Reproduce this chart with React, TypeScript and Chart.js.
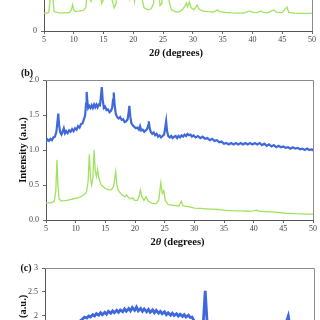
import React, { useEffect, useRef } from "react";
import Chart from "chart.js/auto";

// ---- Panel (a): green pattern (arbitrary counts), only bottom visible ----
const greenA: [number, number][] = [
  [5, 84], [5.5, 85], [5.8, 88], [6.0, 140], [6.15, 700], [6.35, 500], [6.5, 150], [6.7, 92],
  [7.5, 86], [8.5, 86], [9.3, 88], [9.6, 100], [9.8, 124], [10.0, 100], [10.3, 92], [11, 95],
  [11.6, 98], [12.0, 110], [12.2, 160], [12.5, 320], [12.7, 150], [12.9, 140], [13.1, 170],
  [13.3, 300], [13.5, 160], [13.7, 150], [14.0, 180], [14.2, 260], [14.4, 190], [14.7, 130],
  [15.0, 150], [15.3, 200], [15.6, 330], [15.8, 200], [16.1, 280], [16.4, 150], [16.8, 110],
  [17.1, 130], [17.5, 520], [17.8, 200], [18.1, 230], [18.4, 180], [18.7, 420], [19.0, 210],
  [19.3, 160], [19.7, 380], [19.9, 200], [20.2, 140], [20.6, 220], [20.9, 300], [21.2, 180],
  [21.5, 150], [21.8, 110], [22.5, 100], [23.0, 105], [23.4, 130], [23.7, 260], [24.0, 350],
  [24.2, 200], [24.5, 120], [24.8, 130], [25.1, 600], [25.4, 200], [25.7, 450], [26.0, 140],
  [26.4, 100], [27, 92], [27.6, 90], [28.2, 100], [28.6, 115], [28.9, 133], [29.1, 115],
  [29.4, 137], [29.7, 110], [30.2, 100], [30.7, 123], [31.0, 105], [31.5, 95], [32.5, 92],
  [33.5, 90], [34.1, 100], [34.5, 92], [35.5, 88], [36.5, 86], [37.5, 85], [38.5, 85],
  [39.6, 95], [40, 88], [40.8, 87], [41.4, 95], [41.8, 88], [42.5, 86], [43.6, 100], [44, 89],
  [45, 87], [45.8, 114], [46.1, 88], [47, 85], [48, 84], [49, 84], [50, 85],
];

// ---- Panel (b) ----
const blueB: [number, number][] = [
  [5.0, 1.12], [5.25, 1.15], [5.5, 1.13], [5.75, 1.16], [6.0, 1.14], [6.25, 1.18], [6.5, 1.19],
  [6.75, 1.26], [6.95, 1.42], [7.07, 1.52], [7.2, 1.36], [7.4, 1.25], [7.6, 1.22], [7.8, 1.26],
  [8.0, 1.31], [8.2, 1.24], [8.4, 1.27], [8.65, 1.24], [8.9, 1.28], [9.15, 1.26], [9.4, 1.3],
  [9.65, 1.27], [9.9, 1.31], [10.15, 1.29], [10.4, 1.34], [10.65, 1.32], [10.9, 1.37],
  [11.15, 1.38], [11.4, 1.44], [11.6, 1.5], [11.75, 1.66], [11.85, 1.83], [11.97, 1.7],
  [12.1, 1.6], [12.3, 1.63], [12.5, 1.6], [12.7, 1.64], [12.9, 1.6], [13.1, 1.65], [13.3, 1.61],
  [13.5, 1.65], [13.7, 1.61], [13.9, 1.65], [14.1, 1.64], [14.25, 1.76], [14.4, 1.9], [14.55, 1.72],
  [14.75, 1.6], [14.95, 1.62], [15.2, 1.57], [15.45, 1.58], [15.7, 1.54], [15.95, 1.56],
  [16.15, 1.6], [16.3, 1.72], [16.42, 1.82], [16.55, 1.66], [16.75, 1.52], [17.0, 1.47],
  [17.25, 1.45], [17.5, 1.47], [17.75, 1.43], [18.0, 1.44], [18.25, 1.4], [18.5, 1.41],
  [18.75, 1.44], [18.9, 1.52], [19.05, 1.63], [19.2, 1.48], [19.4, 1.38], [19.65, 1.35],
  [19.9, 1.33], [20.15, 1.31], [20.4, 1.32], [20.65, 1.29], [20.85, 1.34], [21.05, 1.28],
  [21.3, 1.29], [21.55, 1.26], [21.8, 1.28], [22.05, 1.3], [22.2, 1.35], [22.32, 1.41],
  [22.45, 1.32], [22.65, 1.26], [22.9, 1.23], [23.15, 1.25], [23.4, 1.21], [23.65, 1.23],
  [23.9, 1.19], [24.15, 1.21], [24.4, 1.18], [24.65, 1.2], [24.9, 1.22], [25.1, 1.32],
  [25.25, 1.41], [25.4, 1.27], [25.6, 1.2], [25.85, 1.18], [26.1, 1.2], [26.35, 1.17],
  [26.6, 1.19], [26.85, 1.2], [27.1, 1.17], [27.35, 1.2], [27.6, 1.18], [27.85, 1.21],
  [28.1, 1.19], [28.35, 1.22], [28.6, 1.2], [28.85, 1.23], [29.1, 1.21], [29.35, 1.22],
  [29.6, 1.19], [29.85, 1.21], [30.2, 1.18], [30.6, 1.2], [31.0, 1.17], [31.4, 1.19],
  [31.8, 1.16], [32.2, 1.17], [32.6, 1.14], [33.0, 1.16], [33.4, 1.13], [33.8, 1.14],
  [34.2, 1.11], [34.6, 1.12], [35.0, 1.09], [35.4, 1.1], [35.8, 1.08], [36.2, 1.1], [36.6, 1.08],
  [37.0, 1.1], [37.4, 1.08], [37.8, 1.1], [38.2, 1.08], [38.6, 1.1], [39.0, 1.08], [39.4, 1.1],
  [39.8, 1.08], [40.2, 1.1], [40.6, 1.08], [41.0, 1.1], [41.4, 1.07], [41.8, 1.09], [42.2, 1.06],
  [42.6, 1.08], [43.0, 1.05], [43.4, 1.07], [43.8, 1.04], [44.2, 1.06], [44.6, 1.04], [45.0, 1.05],
  [45.4, 1.03], [45.8, 1.04], [46.2, 1.02], [46.6, 1.04], [47.0, 1.02], [47.4, 1.03],
  [47.8, 1.01], [48.2, 1.02], [48.6, 1.0], [49.0, 1.02], [49.4, 1.0], [49.8, 1.01], [50, 0.99],
];

const greenB: [number, number][] = [
  [5, 0.24], [5.5, 0.245], [6, 0.25], [6.4, 0.27], [6.65, 0.42], [6.85, 0.86], [7.0, 0.5],
  [7.2, 0.3], [7.6, 0.27], [8.5, 0.28], [9.5, 0.3], [10.5, 0.32], [11.2, 0.35], [11.8, 0.39],
  [12.1, 0.55], [12.3, 0.94], [12.5, 0.6], [12.7, 0.5], [12.9, 0.6], [13.1, 1.0], [13.3, 0.7],
  [13.5, 0.62], [13.7, 0.72], [13.9, 0.6], [14.3, 0.5], [15.0, 0.45], [15.6, 0.43], [16.0, 0.43],
  [16.4, 0.48], [16.75, 0.69], [16.95, 0.5], [17.2, 0.42], [17.8, 0.36], [18.3, 0.33],
  [18.6, 0.36], [18.9, 0.32], [19.3, 0.3], [19.6, 0.32], [19.9, 0.28], [20.4, 0.28], [20.7, 0.34],
  [20.9, 0.43], [21.15, 0.34], [21.5, 0.28], [21.9, 0.33], [22.2, 0.27], [22.8, 0.24],
  [23.5, 0.23], [24.0, 0.28], [24.35, 0.53], [24.6, 0.38], [24.85, 0.42], [25.1, 0.28],
  [25.6, 0.22], [26.5, 0.21], [27.4, 0.2], [27.8, 0.27], [28.1, 0.2], [29, 0.19], [30, 0.17],
  [31, 0.165], [32, 0.16], [33, 0.155], [34, 0.15], [35, 0.14], [36, 0.135], [37, 0.13],
  [38, 0.13], [39, 0.125], [40, 0.13], [40.5, 0.14], [41, 0.125], [42, 0.12], [43, 0.115],
  [44, 0.11], [45, 0.1], [46, 0.095], [47, 0.09], [48, 0.087], [49, 0.085], [50, 0.085],
];

// ---- Panel (c): blue pattern, only top visible ----
const blueC: [number, number][] = [
  [5, 1.7], [6, 1.72], [7, 1.74], [8, 1.76], [9, 1.8], [10, 1.84], [10.5, 1.86], [11, 1.9],
  [11.3, 1.93], [11.6, 1.97], [12, 1.95], [12.3, 1.99], [12.6, 1.97], [13, 2.02], [13.3, 1.99],
  [13.6, 2.04], [14, 2.01], [14.3, 2.06], [14.6, 2.02], [15, 2.07], [15.3, 2.03], [15.6, 2.09],
  [16, 2.05], [16.3, 2.1], [16.6, 2.06], [17, 2.11], [17.3, 2.07], [17.6, 2.12], [18, 2.08],
  [18.3, 2.14], [18.6, 2.09], [19, 2.15], [19.3, 2.1], [19.6, 2.17], [20, 2.11], [20.3, 2.18],
  [20.6, 2.1], [21, 2.15], [21.3, 2.09], [21.6, 2.14], [22, 2.08], [22.3, 2.13], [22.6, 2.07],
  [23, 2.12], [23.3, 2.06], [23.6, 2.11], [24, 2.05], [24.3, 2.09], [24.6, 2.04], [25, 2.08],
  [25.3, 2.02], [25.6, 2.06], [26, 2.01], [26.3, 2.05], [26.6, 2.0], [27, 2.04], [27.3, 1.99],
  [27.6, 2.03], [28, 1.98], [28.3, 2.02], [28.6, 1.97], [29, 2.01], [29.3, 1.96], [29.6, 1.97],
  [30, 1.88], [30.5, 1.85], [31, 1.84], [31.5, 1.9], [31.8, 2.52], [32.1, 1.9], [32.5, 1.83],
  [33, 1.82], [34, 1.8], [35, 1.78], [36, 1.77], [37, 1.76], [38, 1.75], [39, 1.74], [40, 1.73],
  [41, 1.72], [42, 1.71], [43, 1.7], [44, 1.7], [45, 1.72], [45.7, 1.99], [46.0, 1.75],
  [46.5, 1.69], [47, 1.68], [48, 1.67], [49, 1.66], [50, 1.65],
];

const xTicks = [5, 10, 15, 20, 25, 30, 35, 40, 45, 50];

const BLUE = "#3f68dc";
const GREEN = "#9fe35e";
const SERIF = "'Liberation Serif', 'Times New Roman', serif";

type PanelCfg = {
  top: number;
  height: number;
  padTop: number;
  padRight: number;
  yWidth: number;
  yMin: number;
  yMax: number;
  yStep: number;
  yFmt: (v: number) => string;
  series: { data: [number, number][]; color: string; width: number }[];
  label?: string;
  labelX?: number;
  labelY?: number;
};

const panels: PanelCfg[] = [
  {
    top: -200, height: 263, padTop: 20, padRight: 8, yWidth: 44,
    yMin: 0, yMax: 1000, yStep: 200, yFmt: (v) => String(v),
    series: [{ data: greenA, color: GREEN, width: 1.3 }],
  },
  {
    top: 62, height: 190, padTop: 18, padRight: 7, yWidth: 46,
    yMin: 0, yMax: 2, yStep: 0.5, yFmt: (v) => v.toFixed(1),
    series: [
      { data: blueB, color: BLUE, width: 2.2 },
      { data: greenB, color: GREEN, width: 1.3 },
    ],
    label: "(b)", labelX: 27, labelY: 11,
  },
  {
    top: 250, height: 169, padTop: 18, padRight: 6, yWidth: 45,
    yMin: 0.5, yMax: 3, yStep: 0.5, yFmt: (v) => String(v),
    series: [{ data: blueC, color: BLUE, width: 2.8 }],
    label: "(c)", labelX: 26, labelY: 18,
  },
];

function makePlugin(cfg: PanelCfg) {
  return {
    id: "decor",
    afterDraw(chart: any) {
      const { ctx, chartArea: a } = chart;
      ctx.save();
      // frame top/right
      ctx.strokeStyle = "#8c8c8c";
      ctx.lineWidth = 1;
      ctx.beginPath();
      ctx.moveTo(a.left, Math.round(a.top) + 0.5);
      ctx.lineTo(Math.round(a.right) + 0.5, Math.round(a.top) + 0.5);
      ctx.lineTo(Math.round(a.right) + 0.5, a.bottom);
      ctx.stroke();
      // x title: 2θ (degrees)
      ctx.fillStyle = "#111";
      ctx.textBaseline = "middle";
      ctx.textAlign = "left";
      const fb = `bold 10.5px ${SERIF}`;
      const fi = `italic bold 10.5px ${SERIF}`;
      const parts: [string, string][] = [["2", fb], ["θ", fi], [" (degrees)", fb]];
      let total = 0;
      for (const [t, f] of parts) { ctx.font = f; total += ctx.measureText(t).width; }
      let x = (a.left + a.right) / 2 - 2 - total / 2;
      const y = a.bottom + 22;
      for (const [t, f] of parts) { ctx.font = f; ctx.fillText(t, x, y); x += ctx.measureText(t).width; }
      // y title
      ctx.save();
      ctx.translate(23, (a.top + a.bottom) / 2);
      ctx.rotate(-Math.PI / 2);
      ctx.textAlign = "center";
      ctx.font = fb;
      ctx.fillText("Intensity (a.u.)", 0, 0);
      ctx.restore();
      // panel label
      if (cfg.label) {
        ctx.textAlign = "center";
        ctx.font = `bold 10px ${SERIF}`;
        ctx.fillText(cfg.label, cfg.labelX, cfg.labelY);
      }
      ctx.restore();
    },
  };
}

function Panel({ cfg }: { cfg: PanelCfg }) {
  const ref = useRef<HTMLCanvasElement>(null);
  useEffect(() => {
    if (!ref.current) return;
    const tickFont = { family: SERIF, size: 8 };
    const chart = new Chart(ref.current, {
      type: "line",
      data: {
        datasets: cfg.series.map((s) => ({
          data: s.data.map(([x, y]) => ({ x, y })),
          borderColor: s.color,
          borderWidth: s.width,
          pointRadius: 0,
          tension: 0,
          fill: false,
        })),
      },
      options: {
        animation: false,
        responsive: false,
        devicePixelRatio: 1,
        layout: { padding: { top: cfg.padTop, right: cfg.padRight, bottom: 0, left: 0 } },
        plugins: { legend: { display: false }, tooltip: { enabled: false } },
        scales: {
          x: {
            type: "linear",
            min: 5,
            max: 50,
            afterBuildTicks: (s: any) => { s.ticks = xTicks.map((v) => ({ value: v })); },
            ticks: { font: tickFont, color: "#444", padding: 1, maxRotation: 0, autoSkip: false },
            grid: { display: true, drawOnChartArea: false, drawTicks: true, tickLength: 3, color: "#666" },
            border: { display: true, color: "#555" },
            afterFit: (s: any) => { s.height = 32; },
          },
          y: {
            type: "linear",
            min: cfg.yMin,
            max: cfg.yMax,
            ticks: {
              stepSize: cfg.yStep,
              font: tickFont,
              color: "#444",
              padding: 4,
              callback: (v: any) => cfg.yFmt(Number(v)),
            },
            grid: { display: true, drawOnChartArea: false, drawTicks: true, tickLength: 3, color: "#666" },
            border: { display: true, color: "#555" },
            afterFit: (s: any) => { s.width = cfg.yWidth; },
          },
        },
      } as any,
      plugins: [makePlugin(cfg)],
    });
    return () => chart.destroy();
  }, [cfg]);
  return (
    <canvas
      ref={ref}
      width={320}
      height={cfg.height}
      style={{ position: "absolute", left: 0, top: cfg.top, width: 320, height: cfg.height }}
    />
  );
}

export default function App() {
  return (
    <div
      style={{
        position: "fixed",
        left: 0,
        top: 0,
        width: 320,
        height: 320,
        overflow: "hidden",
        background: "#fff",
      }}
    >
      {panels.map((p, i) => (
        <Panel key={i} cfg={p} />
      ))}
    </div>
  );
}
